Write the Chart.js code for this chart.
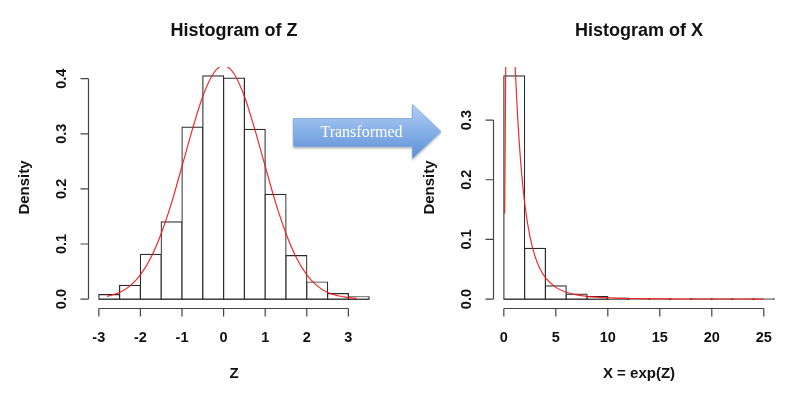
<!DOCTYPE html>
<html lang="en">
<head>
<meta charset="UTF-8">
<title>Histogram of Z / Histogram of X</title>
<script src="https://cdn.jsdelivr.net/npm/chart.js"></script>
<style>
  body { margin: 0; background: #fff; }
  #wrap { position: relative; width: 802px; height: 394px; }
  canvas { position: absolute; top: 0; }
  #left { left: 0; }
  #right { left: 401px; }
  #arrow { position: absolute; left: 0; top: 0; }
</style>
</head>
<body>
<div id="wrap">
  <canvas id="left" width="401" height="394"></canvas>
  <canvas id="right" width="401" height="394"></canvas>
  <svg id="arrow" width="802" height="394">
    <defs>
      <linearGradient id="blue" x1="0" y1="0" x2="0" y2="1">
        <stop offset="0" stop-color="#b3d1f5"/>
        <stop offset="1" stop-color="#5a8ed8"/>
      </linearGradient>
      <filter id="shadow" x="-10%" y="-20%" width="120%" height="150%">
        <feDropShadow dx="0" dy="1.5" stdDeviation="1.2" flood-color="#000" flood-opacity="0.3"/>
      </filter>
    </defs>
    <polygon points="293.5,118.5 412.5,118.5 412.5,104.5 441,131.5 412.5,158.5 412.5,146.5 293.5,146.5"
             fill="url(#blue)" stroke="#79a3dc" stroke-width="0.8" filter="url(#shadow)"/>
    <text x="361.5" y="133" text-anchor="middle" dominant-baseline="middle"
          font-family="Liberation Serif, serif" font-size="16" fill="#fff">Transformed</text>
  </svg>
</div>
<script>
// Z = standard normal sample
const zBreaks = [-3, -2.5, -2, -1.5, -1, -0.5, 0, 0.5, 1, 1.5, 2, 2.5, 3, 3.5];
const zDensity = [0.008, 0.025, 0.081, 0.140, 0.312, 0.405, 0.401, 0.308, 0.190, 0.079, 0.031, 0.010, 0.004];
const zCurveX = [-2.8, -2.5, -2.25, -2, -1.75, -1.5, -1.25, -1, -0.75, -0.5, -0.25, 0,
                 0.25, 0.5, 0.75, 1, 1.25, 1.5, 1.75, 2, 2.25, 2.5, 2.75, 3, 3.2];
const zCurveY = [0.005, 0.012, 0.024, 0.044, 0.075, 0.119, 0.175, 0.241, 0.308, 0.368, 0.409, 0.424,
                 0.409, 0.368, 0.308, 0.241, 0.175, 0.119, 0.075, 0.044, 0.024, 0.012, 0.006, 0.0026, 0.0013];
const zTicksX = [-3, -2, -1, 0, 1, 2, 3];
const zTicksY = [0, 0.1, 0.2, 0.3, 0.4];
const zLabelsY = ['0.0', '0.1', '0.2', '0.3', '0.4'];

// X = exp(Z)
const xBreaks = [0, 2, 4, 6, 8, 10, 12, 14, 16, 18, 20, 22, 24, 26];
const xDensity = [0.374, 0.085, 0.022, 0.0084, 0.004, 0.0015, 0.001, 0.0005, 0.0008, 0.0002, 0.0002, 0.0001, 0.0003];
const xCurveX = [0.08, 0.33, 0.58, 0.83, 1.08, 1.33, 1.58, 1.83, 2.08, 2.5, 3, 3.5, 4, 5, 6, 7, 8, 10, 13, 16, 20, 25];
const xCurveY = [0.143, 0.641, 0.619, 0.501, 0.392, 0.305, 0.239, 0.189, 0.151, 0.106, 0.0715, 0.050, 0.036,
                 0.0196, 0.0115, 0.0071, 0.0046, 0.0021, 0.0008, 0.0003, 0.00013, 0.00005];
const xTicksX = [0, 5, 10, 15, 20, 25];
const xTicksY = [0, 0.1, 0.2, 0.3];
const xLabelsY = ['0.0', '0.1', '0.2', '0.3'];

const FONT = '"Liberation Sans", Arial, sans-serif';

// R style axes, titles and the line under the bins
const rAxes = {
  id: 'rAxes',
  beforeDatasetsDraw(chart, args, o) {
    const {ctx, scales: {x, y}} = chart;
    ctx.save();
    ctx.strokeStyle = '#333';
    ctx.lineWidth = 1.2;
    ctx.beginPath();
    ctx.moveTo(x.getPixelForValue(o.breaks[0]), y.getPixelForValue(0));
    ctx.lineTo(x.getPixelForValue(o.breaks[o.breaks.length - 1]), y.getPixelForValue(0));
    ctx.stroke();
    ctx.restore();
  },
  afterDraw(chart, args, o) {
    const {ctx, chartArea: a, scales: {x, y}} = chart;
    ctx.save();
    ctx.strokeStyle = '#444';
    ctx.lineWidth = 1.2;
    ctx.fillStyle = '#111';

    const ax = Math.round(a.bottom) + 0.5;
    const ay = Math.round(a.left) + 0.5;
    ctx.beginPath();
    ctx.moveTo(x.getPixelForValue(o.ticksX[0]), ax);
    ctx.lineTo(x.getPixelForValue(o.ticksX[o.ticksX.length - 1]), ax);
    o.ticksX.forEach(v => {
      const px = x.getPixelForValue(v);
      ctx.moveTo(px, ax);
      ctx.lineTo(px, ax + 8);
    });
    ctx.moveTo(ay, y.getPixelForValue(o.ticksY[0]));
    ctx.lineTo(ay, y.getPixelForValue(o.ticksY[o.ticksY.length - 1]));
    o.ticksY.forEach(v => {
      const py = y.getPixelForValue(v);
      ctx.moveTo(ay, py);
      ctx.lineTo(ay - 8, py);
    });
    ctx.stroke();

    ctx.textAlign = 'center';
    ctx.textBaseline = 'middle';
    ctx.font = 'bold 14.5px ' + FONT;
    o.ticksX.forEach(v => ctx.fillText(String(v), x.getPixelForValue(v), ax + 29.5));
    o.ticksY.forEach((v, i) => {
      ctx.save();
      ctx.translate(ay - 27, y.getPixelForValue(v));
      ctx.rotate(-Math.PI / 2);
      ctx.fillText(o.labelsY[i], 0, 0);
      ctx.restore();
    });

    const cx = (a.left + a.right) / 2;
    ctx.font = 'bold 15px ' + FONT;
    ctx.fillText(o.xTitle, cx, ax + 65);
    ctx.save();
    ctx.translate(ay - 64, (a.top + a.bottom) / 2);
    ctx.rotate(-Math.PI / 2);
    ctx.fillText('Density', 0, 0);
    ctx.restore();

    ctx.font = 'bold 18px ' + FONT;
    ctx.fillText(o.title, cx, 31);
    ctx.restore();
  }
};

function makeHist(id, breaks, density, curveX, curveY, ticksX, ticksY, labelsY, title, xTitle, pad) {
  const centers = density.map((d, i) => ({x: (breaks[i] + breaks[i + 1]) / 2, y: d}));
  const lo = breaks[0], hi = breaks[breaks.length - 1];
  const top = Math.max(...density);
  return new Chart(document.getElementById(id), {
    type: 'bar',
    data: {
      datasets: [{
        type: 'line',
        data: curveX.map((v, i) => ({x: v, y: curveY[i]})),
        borderColor: 'rgba(240,20,20,0.9)',
        borderWidth: 1.2,
        pointRadius: 0,
        cubicInterpolationMode: 'monotone',
        fill: false,
        order: 0
      }, {
        data: centers,
        backgroundColor: '#fff',
        borderColor: '#2b2b2b',
        borderWidth: 1.2,
        borderSkipped: false,
        barPercentage: 1,
        categoryPercentage: 1,
        inflateAmount: 0.6,
        order: 1
      }]
    },
    options: {
      responsive: false,
      animation: false,
      layout: {padding: pad},
      scales: {
        x: {
          type: 'linear', display: false, offset: false,
          min: lo - 0.04 * (hi - lo), max: hi + 0.04 * (hi - lo),
          ticks: {stepSize: ticksX[1] - ticksX[0], includeBounds: false}
        },
        y: {
          display: false,
          min: -0.04 * top, max: 1.04 * top
        }
      },
      plugins: {
        legend: {display: false},
        tooltip: {enabled: false},
        rAxes: {breaks, ticksX, ticksY, labelsY, title, xTitle}
      }
    },
    plugins: [rAxes]
  });
}

makeHist('left', zBreaks, zDensity, zCurveX, zCurveY, zTicksX, zTicksY, zLabelsY,
  'Histogram of Z', 'Z', {left: 88, right: 21, top: 67, bottom: 86});
makeHist('right', xBreaks, xDensity, xCurveX, xCurveY, xTicksX, xTicksY, xLabelsY,
  'Histogram of X', 'X = exp(Z)', {left: 92, right: 17, top: 67, bottom: 86});
</script>
</body>
</html>
